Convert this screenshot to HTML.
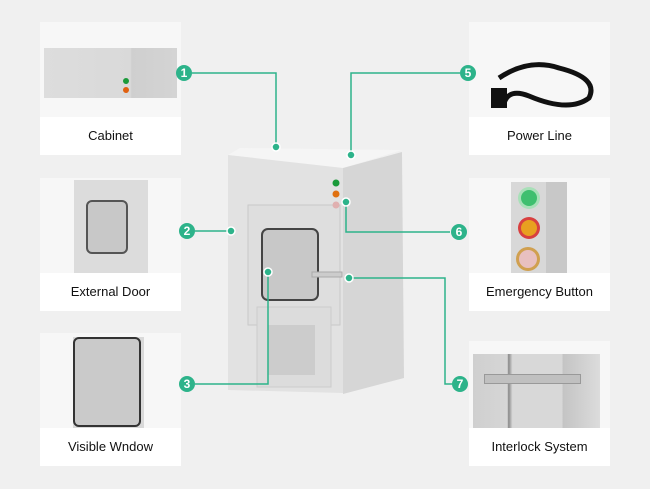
<!DOCTYPE html>
<html><head><style>
body{margin:0;width:650px;height:489px;background:#f0f0f0;font-family:"Liberation Sans",sans-serif;position:relative;overflow:hidden}
.card{position:absolute;background:#f7f7f7}
.lab{position:absolute;left:0;right:0;bottom:0;height:38px;background:#fff;text-align:center;line-height:38px;font-size:13px;color:#111}
.img{position:absolute;background:#e2e2e2}
</style></head><body>
<!-- left cards -->
<div class="card" style="left:40px;top:22px;width:141px;height:133px">
 <div class="img" style="left:4px;top:26px;width:133px;height:50px;background:linear-gradient(90deg,#ddd 0,#d9d9d9 65%,#cfcfcf 66%,#d4d4d4)"></div>
 <div style="position:absolute;left:83px;top:56px;width:6px;height:6px;border-radius:50%;background:#1a9a3a"></div>
 <div style="position:absolute;left:83px;top:65px;width:6px;height:6px;border-radius:50%;background:#e06010"></div>
 <div class="lab">Cabinet</div></div>
<div class="card" style="left:40px;top:178px;width:141px;height:133px">
 <div class="img" style="left:34px;top:2px;width:74px;height:95px;background:#dcdcdc"></div>
 <div style="position:absolute;left:46px;top:22px;width:38px;height:50px;border:2px solid #555;border-radius:6px;background:#c8c8c8"></div>
 <div class="lab">External Door</div></div>
<div class="card" style="left:40px;top:333px;width:141px;height:133px">
 <div class="img" style="left:33px;top:4px;width:71px;height:91px;background:#d9d9d9"></div>
 <div style="position:absolute;left:33px;top:4px;width:64px;height:86px;border:2px solid #333;border-radius:6px;background:#cacaca"></div>
 <div class="lab">Visible Wndow</div></div>
<!-- right cards -->
<div class="card" style="left:469px;top:22px;width:141px;height:133px">
 <svg style="position:absolute;left:10px;top:36px" width="125" height="60"><path d="M20 20 Q50 0 80 10 Q120 20 110 40 Q90 55 50 38 Q30 30 25 45" stroke="#111" stroke-width="5" fill="none"/><rect x="12" y="30" width="16" height="20" fill="#111"/></svg>
 <div class="lab">Power Line</div></div>
<div class="card" style="left:469px;top:178px;width:141px;height:133px">
 <div class="img" style="left:42px;top:4px;width:56px;height:93px;background:linear-gradient(90deg,#d8d8d8 0,#d8d8d8 62%,#c8c8c8 63%)"></div>
 <div style="position:absolute;left:52px;top:12px;width:16px;height:16px;border-radius:50%;background:#3fbf6f;box-shadow:0 0 0 3px #a8e0b8"></div>
 <div style="position:absolute;left:52px;top:42px;width:16px;height:16px;border-radius:50%;background:#e8a020;box-shadow:0 0 0 3px #d84040"></div>
 <div style="position:absolute;left:50px;top:72px;width:18px;height:18px;border-radius:50%;background:#e8c0c0;box-shadow:0 0 0 3px #d0a050"></div>
 <div class="lab">Emergency Button</div></div>
<div class="card" style="left:469px;top:341px;width:141px;height:125px">
 <div class="img" style="left:4px;top:13px;width:127px;height:74px;background:linear-gradient(90deg,#cfcfcf 0,#d6d6d6 27%,#888 28%,#bbb 30%,#d8d8d8 31%,#d8d8d8 70%,#c4c4c4 71%,#dcdcdc)"></div>
 <div style="position:absolute;left:15px;top:33px;width:95px;height:8px;background:#c0c0c0;border:1px solid #999"></div>
 <div class="lab">Interlock System</div></div>
<!-- cabinet -->
<svg style="position:absolute;left:0;top:0" width="650" height="489">
 <polygon points="228,155 240,148 402,150 343,168" fill="#f5f5f5"/>
 <polygon points="228,155 343,168 343,393 228,390" fill="#e2e2e2"/>
 <polygon points="343,168 402,152 404,378 343,394" fill="#d6d6d6"/>
 <rect x="248" y="205" width="92" height="120" fill="#dedede" stroke="#c8c8c8"/>
 <rect x="262" y="229" width="56" height="71" rx="6" fill="#c8c8c8" stroke="#444" stroke-width="2"/>
 <rect x="312" y="272" width="30" height="5" fill="#ccc" stroke="#aaa"/>
 <rect x="257" y="307" width="74" height="80" fill="#dcdcdc" stroke="#ccc"/>
 <rect x="268" y="325" width="47" height="50" fill="#ccc"/>
 <circle cx="336" cy="183" r="3.5" fill="#1a9a3a"/>
 <circle cx="336" cy="194" r="3.5" fill="#e07010"/>
 <circle cx="336" cy="205" r="3.5" fill="#e0b0b0"/>
 <g stroke="#2db38a" stroke-width="1.5" fill="none">
  <polyline points="192,73 276,73 276,147"/>
  <polyline points="460,73 351,73 351,155"/>
  <polyline points="195,231 231,231"/>
  <polyline points="450,232 346,232 346,202"/>
  <polyline points="195,384 268,384 268,272"/>
  <polyline points="452,384 445,384 445,278 349,278"/>
 </g>
 <g fill="#2db38a" stroke="#fff" stroke-width="1.5">
  <circle cx="276" cy="147" r="4"/><circle cx="351" cy="155" r="4"/><circle cx="231" cy="231" r="4"/>
  <circle cx="346" cy="202" r="4"/><circle cx="268" cy="272" r="4"/><circle cx="349" cy="278" r="4"/>
 </g>
 <g fill="#2db38a"><circle cx="184" cy="73" r="8"/><circle cx="468" cy="73" r="8"/><circle cx="187" cy="231" r="8"/>
 <circle cx="459" cy="232" r="8"/><circle cx="187" cy="384" r="8"/><circle cx="460" cy="384" r="8"/></g>
 <g fill="#fff" font-family="Liberation Sans" font-weight="bold" font-size="12" text-anchor="middle">
  <text x="184" y="77">1</text><text x="468" y="77">5</text><text x="187" y="235">2</text>
  <text x="459" y="236">6</text><text x="187" y="388">3</text><text x="460" y="388">7</text></g>
</svg>
</body></html>
